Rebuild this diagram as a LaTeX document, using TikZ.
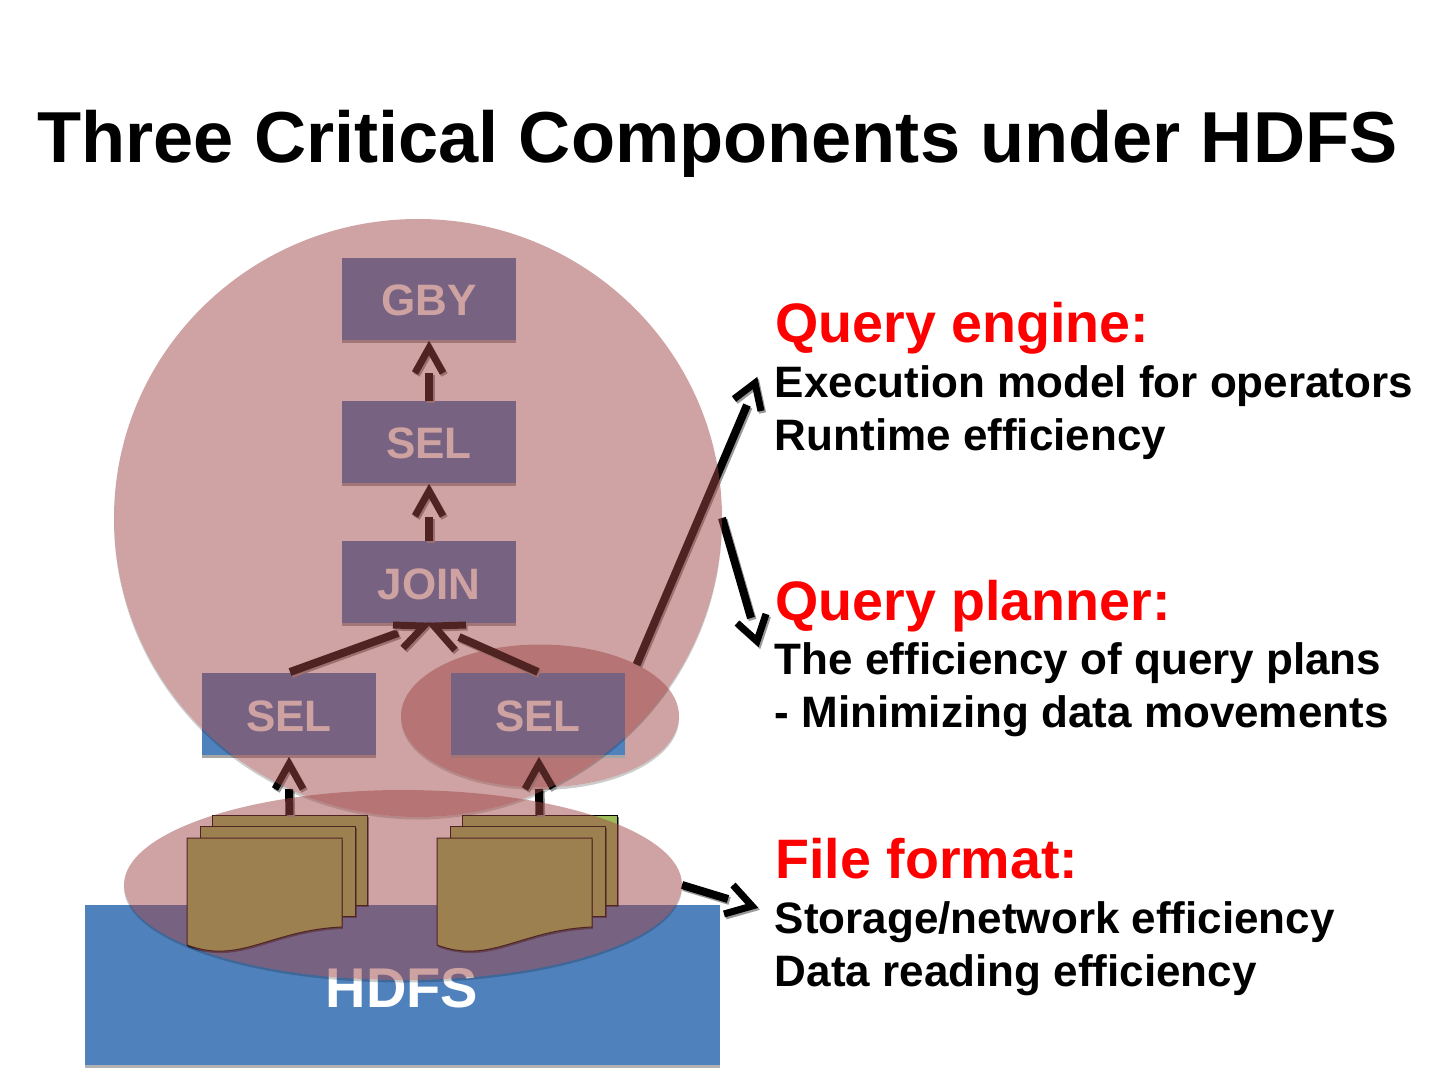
\documentclass[tikz,border=0pt]{standalone}
\usepackage{fontspec}
\setmainfont{Liberation Sans}
\usetikzlibrary{shapes.geometric,shadows}
\pgfdeclarelayer{low}
\pgfdeclarelayer{tint}
\pgfsetlayers{low,main,tint}
\definecolor{boxblue}{HTML}{4F81BD}
\definecolor{sheet}{HTML}{9BBB59}
\definecolor{tintc}{HTML}{A04747}
\definecolor{headred}{HTML}{FF0000}
\tikzset{
  x=0.5pt,y=-0.5pt,
  tintring/.style={ellipse,inner sep=0pt,outer sep=0pt,fill=tintc,fill opacity=0.5},
  ringshadow/.style={fill=black,opacity=0.2,even odd rule},
  opbox/.style={rectangle,fill=boxblue,minimum width=87pt,minimum height=41pt,inner sep=0pt,outer sep=0pt,
    drop shadow={shadow xshift=0pt,shadow yshift=-1.5pt,opacity=1,fill=black!35}},
  boxtext/.style={text=white,font=\bfseries\fontsize{22}{22}\selectfont,anchor=base},
  shaft/.style={draw=black,line width=4pt,line cap=butt,
    preaction={draw=black!40,line width=4pt,transform canvas={xshift=0.8pt,yshift=-1pt}}},
  chev/.style={draw=black,line width=3.5pt,line cap=butt,line join=miter,miter limit=10,
    preaction={draw=black!40,line width=3.5pt,line join=miter,miter limit=10,transform canvas={xshift=0.8pt,yshift=-1pt}}},
  sheetbox/.style={rectangle,draw=black,line width=0.5pt,fill=sheet,minimum width=77.5pt,inner sep=0pt,outer sep=0pt,
    drop shadow={shadow xshift=0.8pt,shadow yshift=-1pt,opacity=0.5,fill=black}},
  frontsheet/.style={draw=black,line width=0.5pt,fill=sheet},
  headtxt/.style={anchor=base west,inner sep=0pt,text=headred,font=\bfseries\fontsize{27.8}{28}\selectfont},
  bodytxt/.style={anchor=base west,inner sep=0pt,text=black,font=\bfseries\fontsize{22}{22}\selectfont},
}
\begin{document}
\begin{tikzpicture}
\useasboundingbox (0,0) rectangle (1440,1080);
% the planner ring lies below the operators; the other two tint everything
\begin{pgfonlayer}{low}
\begin{scope}
\clip (0,716) rectangle (1440,1080);
\fill[ringshadow] (540,716) ellipse [x radius=139,y radius=71.5] (540,718.5) ellipse [x radius=139,y radius=71.5];
\end{scope}
\node[tintring,minimum width=139pt,minimum height=71.5pt] (planner) at (540,716) {};
\end{pgfonlayer}
\begin{pgfonlayer}{tint}
\begin{scope}
\clip (0,518) rectangle (1440,1080);
\fill[ringshadow] (418,518) ellipse [x radius=304,y radius=299] (418,520.5) ellipse [x radius=304,y radius=299];
\end{scope}
\begin{scope}
\clip (0,885) rectangle (1440,1080);
\fill[ringshadow] (403,885) ellipse [x radius=279,y radius=95] (403,887.5) ellipse [x radius=279,y radius=95];
\end{scope}
\node[tintring,minimum width=304pt,minimum height=299pt] (engine) at (418,518) {};
\node[tintring,minimum width=279pt,minimum height=95pt] (format) at (403,885) {};
\end{pgfonlayer}
% title
\node[anchor=base,inner sep=0pt,font=\bfseries\fontsize{36.1}{36}\selectfont] (title) at (717.5,163) {Three Critical Components under HDFS};
% HDFS block
\node[rectangle,fill=boxblue,minimum width=317.5pt,minimum height=80pt,inner sep=0pt,
  drop shadow={shadow xshift=0pt,shadow yshift=-1.5pt,opacity=1,fill=black!30}] (hdfs) at (402.5,985) {};
\node[anchor=base,inner sep=0pt,text=white,font=\bfseries\fontsize{28}{28}\selectfont] (hdfslabel) at (402,1007) {HDFS};
% operators
\node[opbox] (gby) at (429,299) {};
\node[opbox] (selb) at (429,442) {};
\node[opbox] (join) at (429,582) {};
\node[opbox] (sell) at (289,714) {};
\node[opbox] (selr) at (538,714) {};
\node[boxtext] (gbyt) at (429,315.5) {GBY};
\node[boxtext] (selbt) at (429,458.5) {SEL};
\node[boxtext] (joint) at (429,599.5) {JOIN};
\node[boxtext] (sellt) at (289,731.5) {SEL};
\node[boxtext] (selrt) at (538,731.5) {SEL};
% file stacks
\node[sheetbox,minimum height=45pt] (filea) at (289.5,860) {};
\node[sheetbox,minimum height=45pt] at (277.5,871) {};
\node[sheetbox,minimum height=45pt] (fileb) at (539.5,860) {};
\node[sheetbox,minimum height=45pt] at (527.5,871) {};
\foreach \dx in {0,250}{
  \fill[black,opacity=0.5,xshift=0.4pt,yshift=-1pt] (187+\dx,838) -- (342+\dx,838) -- (342+\dx,927) .. controls (270+\dx,930) and (240+\dx,965) .. (187+\dx,945) -- cycle;
  \draw[frontsheet] (187+\dx,838) -- (342+\dx,838) -- (342+\dx,927) .. controls (270+\dx,930) and (240+\dx,965) .. (187+\dx,945) -- cycle;
}
% named arrow ends
\coordinate (a1) at (429,373);
\coordinate (a2) at (429,517);
\coordinate (a3) at (398,633);
\coordinate (a4) at (459,637);
\coordinate (a5) at (289,789);
\coordinate (a6) at (539,789);
\coordinate (a7) at (747,405);
\coordinate (a8) at (751,618);
\coordinate (a9) at (728,899);
% shafts
\draw[shaft] (selb.north) -- (a1);
\draw[shaft] (join.north) -- (a2);
\draw[shaft] (290,672) -- (a3);
\draw[shaft] (538,672) -- (a4);
\draw[shaft] (filea.north) -- (a5);
\draw[shaft] (fileb.north) -- (a6);
\draw[shaft] (planner.28) -- (a7);
\draw[shaft] (engine.east) -- (a8);
\draw[shaft] (format.east) -- (a9);
% open arrowheads
\draw[chev] (415,373) -- (429,348) -- (443,373);
\draw[chev] (415,516) -- (429,491) -- (443,516);
\draw[chev] (393,625) -- (424,626) -- (403,648);
\draw[chev] (466,625) -- (434,626) -- (455,650);
\draw[chev] (275,789) -- (289,764) -- (303,789);
\draw[chev] (525,789) -- (539,764) -- (553,788);
\draw[chev] (734,399) -- (755,383) -- (761,411);
\draw[chev] (737,623) -- (757,641) -- (766,614);
\draw[chev] (733,885) -- (752,906) -- (724,914);
% side text
\node[headtxt] (h1) at (775,343) {Query engine:};
\node[bodytxt] (b11) at (774.5,397.5) {Execution model for operators};
\node[bodytxt] (b12) at (774.5,451) {Runtime efficiency};
\node[headtxt] (h2) at (775,620) {Query planner:};
\node[bodytxt] (b21) at (774.5,674) {The efficiency of query plans};
\node[bodytxt] (b22) at (774.5,727) {- Minimizing data movements};
\node[headtxt] (h3) at (775,878) {File format:};
\node[bodytxt] (b31) at (774.5,933) {Storage/network efficiency};
\node[bodytxt] (b32) at (774.5,986) {Data reading efficiency};
\end{tikzpicture}
\end{document}
